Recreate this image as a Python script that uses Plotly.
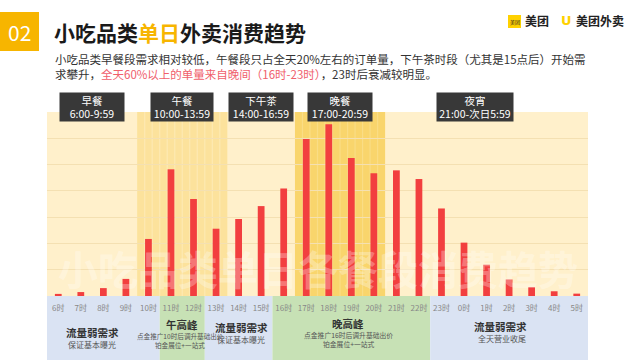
import plotly.graph_objects as go

# ---------------- data ----------------
hours = ["6时", "7时", "8时", "9时", "10时", "11时", "12时", "13时", "14时", "15时",
         "16时", "17时", "18时", "19时", "20时", "21时", "22时", "23时", "0时", "1时",
         "2时", "3时", "4时", "5时"]
orders = [0.08, 0.15, 0.30, 0.65, 2.17, 4.82, 3.69, 2.56, 2.93, 3.42,
          4.09, 5.97, 6.53, 5.25, 4.67, 4.78, 4.45, 3.33, 2.03, 1.19,
          0.63, 0.34, 0.18, 0.09]

meal_names = ["早餐", "午餐", "下午茶", "晚餐", "夜宵"]
meal_times = ["6:00-9:59", "10:00-13:59", "14:00-16:59", "17:00-20:59", "21:00-次日5:59"]
meal_first = ["6时", "10时", "14时", "17时", "21时"]
meal_last = ["9时", "13时", "16时", "20时", "5时"]

peak_meals = ["午餐", "晚餐"]

panel_first = ["6时", "11时", "13时", "16时", "23时"]
panel_last = ["10时", "12时", "15时", "22时", "5时"]
panel_kind = ["weak", "peak", "weak", "peak", "weak"]

title_main = "小吃品类"
title_hl = "单日"
title_rest = "外卖消费趋势"
desc1 = "小吃品类早餐段需求相对较低，午餐段只占全天20%左右的订单量，下午茶时段（尤其是15点后）开始需"
desc2a = "求攀升，"
desc2b = "全天60%以上的单量来自晚间（16时-23时）"
desc2c = "，23时后衰减较明显。"

# ---------------- geometry helpers ----------------
L, R, T, B = 47, 588, 112, 296
W, H = R - L, B - T
FONT = "Noto Sans CJK SC"


def PX(x):
    return (x - L) / W


def PY(y):
    return (B - y) / H


def idx(h):
    return hours.index(h)


fig = go.Figure()
fig.add_trace(go.Bar(
    x=hours, y=orders, marker=dict(color="#F23F3F", line=dict(width=0)),
    width=0.30, hoverinfo="skip", showlegend=False,
))

shapes = []
annotations = []

# peak meal shading
for name in peak_meals:
    i = meal_names.index(name)
    a, b = idx(meal_first[i]) - 0.5, idx(meal_last[i]) + 0.5
    col = "#FCE29C" if name == "午餐" else "#F9D56C"
    stripe = "#FDE9B2" if name == "午餐" else "#FADD85"
    shapes.append(dict(type="rect", xref="x", yref="paper", x0=a, x1=b, y0=0, y1=1,
                       fillcolor=col, line=dict(width=0), layer="below"))
    k = 1
    while a + k / 3 < b - 0.01:
        shapes.append(dict(type="line", xref="x", yref="paper", x0=a + k / 3, x1=a + k / 3,
                           y0=0, y1=1, line=dict(color=stripe, width=1.2), layer="below"))
        k += 1

# bottom panels
for f, l, kind in zip(panel_first, panel_last, panel_kind):
    shapes.append(dict(type="rect", xref="x", yref="paper",
                       x0=idx(f) - 0.5, x1=idx(l) + 0.5, y0=PY(362), y1=0,
                       fillcolor="#DAE3F3" if kind == "weak" else "#C7E1B5",
                       line=dict(width=0), layer="below"))


def ptext(text, x, y, size, color, bold=False, xanchor="center", fam=FONT, align="center"):
    annotations.append(dict(text=("<b>%s</b>" % text) if bold else text,
                            xref="paper", yref="paper", x=PX(x), y=PY(y),
                            xanchor=xanchor, yanchor="middle", align=align,
                            showarrow=False, font=dict(family=fam, size=size, color=color)))


# watermark
ptext("小吃品类单日各餐段消费趋势", 318, 268, 40, "rgba(255,255,255,0.3)", True)

# meal label boxes
box_centers = [1.5, 5.5, 9.0, 12.5, 18.5]
box_widths = [60, 58, 60, 60, 72]
for n, t, cx, w in zip(meal_names, meal_times, box_centers, box_widths):
    annotations.append(dict(text=n + "<br>" + t, xref="x", yref="paper", x=cx, y=PY(107),
                            xanchor="center", yanchor="middle",
                            showarrow=False, bgcolor="#383838", width=w, height=24,
                            borderpad=2, align="center",
                            font=dict(family=FONT, size=10.5, color="white")))

# panel texts
ptext("流量弱需求", 92, 332, 10.5, "#333333", True)
ptext("保证基本曝光", 92, 344, 8, "#555555")
ptext("午高峰", 182, 324, 10.5, "#333333", True)
ptext("点金推广10时后调升基础出价", 180, 335.5, 6.6, "#555555")
ptext("铂金展位+一站式", 180, 344.8, 6.6, "#555555")
ptext("流量弱需求", 241, 327, 10.5, "#333333", True)
ptext("保证基本曝光", 241, 339, 8, "#555555")
ptext("晚高峰", 348, 323, 10.5, "#333333", True)
ptext("点金推广16时后调升基础出价", 348, 334.5, 6.8, "#555555")
ptext("铂金展位+一站式", 349, 343.8, 6.8, "#555555")
ptext("流量弱需求", 500, 326.5, 10.5, "#333333", True)
ptext("全天营业收尾", 502, 338.5, 8, "#555555")

# header
shapes.append(dict(type="rect", xref="paper", yref="paper", x0=PX(0), x1=PX(39),
                   y0=PY(51), y1=PY(12), fillcolor="#F7B500", line=dict(width=0)))
ptext("02", 19.5, 32, 21, "white")
ptext("<b>%s<span style='color:#F7B500'>%s</span>%s</b>" % (title_main, title_hl, title_rest),
      52, 32, 21, "#1a1a1a", xanchor="left")
ptext(desc1 + "<br>" + desc2a + "<span style='color:#F0606C'>" + desc2b + "</span>" + desc2c,
      53, 67, 11.5, "#333333", xanchor="left", align="left")

# logo
shapes.append(dict(type="rect", xref="paper", yref="paper", x0=PX(508), x1=PX(521),
                   y0=PY(28), y1=PY(15), fillcolor="#FFD100", line=dict(width=0)))
ptext("美团", 514.5, 21.5, 5, "#222")
ptext("美团", 523, 21, 12, "#222", True, xanchor="left")
ptext("ᑌ", 566, 21, 13, "#FFD100", True, fam="DejaVu Sans")
ptext("美团外卖", 574, 21, 12, "#222", True, xanchor="left")

fig.update_layout(
    width=640, height=360, autosize=False,
    margin=dict(l=L, r=640 - R, t=T, b=360 - B, pad=0),
    paper_bgcolor="white", plot_bgcolor="#FFF0CB",
    font=dict(family=FONT),
    bargap=0.5, showlegend=False,
    shapes=shapes, annotations=annotations,
    xaxis=dict(type="category", range=[-0.5, 23.5], showgrid=False, zeroline=False,
               showline=False, ticks="outside", ticklen=4, tickcolor="rgba(0,0,0,0)",
               tickfont=dict(family=FONT, size=8, color="#888888"), fixedrange=True),
    yaxis=dict(range=[0, 7], dtick=1, showgrid=True, gridcolor="#F4E0B2", gridwidth=1,
               zeroline=False, showline=False, showticklabels=False, fixedrange=True),
)

fig.write_html("out.html", config={"displayModeBar": False},
               post_script="document.body.style.margin='0px';document.body.style.overflow='hidden';")
